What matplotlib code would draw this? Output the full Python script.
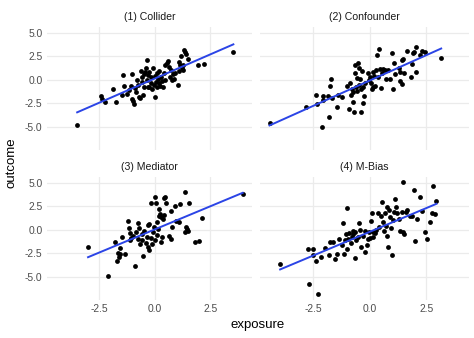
import numpy as np
import matplotlib
matplotlib.use("Agg")
import matplotlib.pyplot as plt

plt.rcParams['font.family'] = ['Liberation Sans', 'DejaVu Sans']

titles = ["(1) Collider", "(2) Confounder", "(3) Mediator", "(4) M-Bias"]

collider_x = [-3.50, 3.54, -2.43, -2.40, -2.23, -1.88, -1.73, -1.43, -1.46, -1.38, -1.24, -1.16, -1.09, -1.04,
              -1.01, -0.98, -0.94, -0.89, -0.83, -0.79, -0.74, -0.71, -0.68, -0.64, -0.60, -0.57, -0.54, -0.51,
              -0.48, -0.45, -0.42, -0.37, -0.34, -0.31, -0.30, -0.27, -0.24, -0.19, -0.15, -0.12, -0.09, -0.04,
              0.00, 0.03, 0.06, 0.09, 0.12, 0.15, 0.18, 0.21, 0.25, 0.30, 0.33, 0.37, 0.40, 0.45, 0.48, 0.55,
              0.60, 0.65, 0.70, 0.74, 0.77, 0.80, 0.85, 0.92, 1.04, 1.07, 1.10, 1.15, 1.19, 1.22, 1.26, 1.29,
              1.32, 1.37, 1.40, 1.49, 1.96, 2.22]
collider_y = [-4.82, 2.98, -1.70, -2.06, -2.38, -1.00, -2.34, 0.50, -1.60, -0.64, -1.49, -1.06, -0.64, 0.64,
              -1.99, -2.23, -2.55, -0.89, -1.24, 0.00, -0.53, -1.77, -1.95, 1.00, 0.28, -0.18, -1.60, -0.78,
              0.64, 0.82, 1.24, 2.13, 0.00, -0.71, 0.53, 0.89, -0.78, 0.28, -0.35, -0.99, 1.24, -0.53,
              0.43, -1.77, -0.18, 0.71, -0.78, 0.07, 1.00, -0.35, -0.64, 0.28, -0.07, -0.78, 0.71, 1.60, 0.00, 1.84,
              2.06, 1.42, 0.28, 1.06, 0.00, 0.64, 0.07, 0.78, -0.53, 1.95, 1.00, 1.60, 2.55, 1.24, 1.60, 1.06,
              3.19, 2.94, 2.77, 2.20, 1.60, 1.70]

confounder_x = [-4.44, 3.15, -2.84, -2.38, -2.32, -2.12, -2.06, -2.09, -1.85, -1.79, -1.76, -1.71, -1.68, -1.44,
                -1.41, -1.25, -1.03, -0.91, -0.88, -0.85, -0.81, -0.76, -0.74, -0.71, -0.68, -0.65, -0.62, -0.59,
                -0.56, -0.51, -0.50, -0.47, -0.44, -0.41, -0.38, -0.35, -0.32, -0.29, -0.26, -0.22, -0.07, -0.03,
                0.00, 0.03, 0.07, 0.12, 0.15, 0.18, 0.22, 0.26, 0.32, 0.37, 0.41, 0.44, 0.50, 0.53, 0.59, 0.66,
                0.71, 0.78, 0.88, 0.99, 1.04, 1.07, 1.12, 1.29, 1.32, 1.35, 1.40, 1.43, 1.47, 1.50, 1.66, 1.82,
                1.88, 1.91, 1.96, 2.03, 2.03, 2.21, 2.32, 2.44]
confounder_y = [-4.54, 2.38, -2.84, -1.63, -2.55, -5.00, -1.74, -2.13, -1.70, -3.97, -0.64, 0.14, -1.91, -2.84,
                -1.60, -1.84, -0.64, -3.12, -0.35, -1.60, -0.99, -1.24, -2.30, -3.37, 0.78, 1.60, -0.78, -1.13,
                0.18, 1.77, -0.53, 1.24, 0.07, -0.99, -3.37, 1.00, -0.71, -2.48, -1.70, -0.35, 0.78, 0.00,
                0.28, -0.28, -0.99, -0.78, 0.89, 0.43, -0.64, 1.06, 2.66, 0.28, 3.33, 1.13, -0.89, 0.78, 1.13, 1.06,
                0.07, 1.06, 0.07, 2.84, -0.92, 1.77, 0.64, 1.24, -0.14, 0.89, 2.13, -0.43, 2.27, 0.71, 3.12, 0.35,
                1.70, 2.84, 3.01, 0.89, 3.55, 2.66, 3.12, 3.01]

mediator_x = [-3.01, 3.96, -2.13, -1.79, -1.70, -1.67, -1.61, -1.58, -1.55, -1.49, -1.34, -1.19, -1.16, -1.13,
              -1.10, -1.07, -0.97, -0.89, -0.83, -0.77, -0.74, -0.71, -0.65, -0.60, -0.57, -0.52, -0.48, -0.42,
              -0.37, -0.33, -0.30, -0.27, -0.24, -0.19, -0.15, -0.12, -0.09, -0.04, -0.01, 0.03, 0.06, 0.09,
              0.12, 0.15, 0.18, 0.21, 0.24, 0.27, 0.30, 0.33, 0.37, 0.40, 0.43, 0.48, 0.52, 0.65, 0.71, 0.74,
              0.77, 0.92, 0.97, 1.07, 1.12, 1.34, 1.37, 1.41, 1.46, 1.49, 1.55, 1.79, 1.99, 2.14]
mediator_y = [-1.77, 3.83, -4.93, -1.28, -3.30, -2.41, -2.84, -2.55, -1.95, -0.78, -2.55, 0.96, 0.18, -0.35,
              -1.06, -0.89, -0.64, -3.87, -0.18, -0.96, 0.71, 0.18, -1.49, -1.06, -0.43, -2.77, -0.07, -1.35,
              -0.71, 0.53, -1.84, 0.64, -2.13, -0.89, 2.84, -1.49, -0.18, 0.35, 3.48, -1.06, 2.91, 0.89,
              -0.53, 0.07, 1.49, 2.23, 1.70, 1.35, -1.24, -0.78, 1.13, 1.60, 3.37, 3.48, 2.91, -0.64, -0.96, 2.06,
              0.35, 2.55, 0.96, 0.89, 2.73, 4.08, -0.18, 0.35, 0.07, -0.07, 2.91, -1.24, -1.17, 1.24]

mbias_x = [-3.97, -2.68, -2.28, -2.74, -2.53, -2.50, -2.38, -2.18, -1.99, -1.79, -1.76, -1.65, -1.56, -1.47,
           -1.38, -1.25, -1.21, -1.15, -1.10, -1.06, -1.03, -1.00, -0.96, -0.91, -0.85, -0.81, -0.76, -0.74,
           -0.68, -0.65, -0.62, -0.51, -0.47, -0.44, -0.38, -0.32, -0.24, -0.21, -0.15, -0.07, -0.03, 0.00,
           0.06, 0.09, 0.12, 0.15, 0.22, 0.26, 0.37, 0.41, 0.47, 0.53, 0.56, 0.62, 0.66, 0.71, 0.74, 0.76,
           0.82, 0.85, 0.88, 0.91, 0.96, 1.00, 1.06, 1.12, 1.15, 1.18, 1.29, 1.35, 1.40, 1.44, 1.47, 1.50,
           1.59, 1.62, 1.76, 1.88, 1.94, 1.99, 2.09, 2.21, 2.32, 2.43, 2.53, 2.65, 2.76, 2.79, 2.87, 2.94]
mbias_y = [-3.58, -5.74, -6.84, -2.06, -2.06, -2.66, -3.26, -2.84, -1.91, -2.66, -1.24, -1.24, -3.12, -2.55,
           -0.99, -1.60, 0.71, -2.55, -1.06, -0.43, 2.30, -2.06, -0.99, -0.28, -1.35, -0.71, -0.07, -0.43,
           -2.94, -0.18, -1.06, -0.71, 0.71, 0.00, -1.84, -0.64, -0.07, -2.30, -1.60, -0.99, -0.18, -0.89,
           0.99, 1.84, -0.18, -0.78, -0.28, 0.00, 1.84, 0.35, 1.49, 3.01, 0.89, -0.07, 1.84, 0.43, 2.41, -0.64,
           -1.84, 2.13, 1.35, 0.18, -2.66, 1.06, 1.95, 3.26, 2.41, 1.77, 1.13, -0.07, 1.95, -0.18, 5.07, -0.43,
           1.95, 2.13, 1.49, 1.49, 4.26, -1.17, 1.13, 3.48, 2.06, -0.18, -0.99, 0.89, 1.84, 4.72, 1.70, 3.12]

xs = [collider_x, confounder_x, mediator_x, mbias_x]
ys = [collider_y, confounder_y, mediator_y, mbias_y]

x_ticks = [-2.5, 0.0, 2.5]
y_ticks = [-5.0, -2.5, 0.0, 2.5, 5.0]

allx = np.concatenate([np.array(a) for a in xs])
ally = np.concatenate([np.array(a) for a in ys])
xr = allx.max() - allx.min()
yr = ally.max() - ally.min()
xlim = (allx.min() - 0.05 * xr, allx.max() + 0.05 * xr)
ylim = (ally.min() - 0.05 * yr, ally.max() + 0.05 * yr)

W, H = 474, 338
fig = plt.figure(figsize=(W / 100, H / 100), dpi=100)
fig.patch.set_facecolor('white')

lefts = [47, 260, 47, 260]
rights = [252, 469, 252, 469]
tops = [26.7, 26.7, 176.7, 176.7]
bottoms = [149.9, 149.9, 299.9, 299.9]

grid_col = '#EBEBEB'
tick_col = '#4D4D4D'

for i in range(4):
    l, r, t, b = lefts[i], rights[i], tops[i], bottoms[i]
    ax = fig.add_axes([l / W, 1 - b / H, (r - l) / W, (b - t) / H])
    ax.set_xlim(xlim)
    ax.set_ylim(ylim)
    ax.set_xticks(x_ticks)
    ax.set_yticks(y_ticks)
    ax.grid(True, color=grid_col, linewidth=0.9)
    ax.set_axisbelow(True)
    for s in ax.spines.values():
        s.set_visible(False)
    ax.tick_params(length=0, labelsize=7.4, colors=tick_col, pad=3.2)
    if i in (0, 2):
        ax.set_yticklabels([f"{v:.1f}" for v in y_ticks])
    else:
        ax.set_yticklabels([])
    if i in (2, 3):
        ax.set_xticklabels([f"{v:.1f}" for v in x_ticks])
    else:
        ax.set_xticklabels([])
    x = np.array(xs[i])
    y = np.array(ys[i])
    ax.scatter(x, y, s=12, color='black', linewidths=0, zorder=3)
    k, c = np.polyfit(x, y, 1)
    xx = np.array([x.min(), x.max()])
    ax.plot(xx, k * xx + c, color='#2B44E6', linewidth=1.4, zorder=4)
    ax.set_title(titles[i], fontsize=7.6, color='#1A1A1A', pad=5)

fig.text(258 / W, 1 - 325 / H, "exposure", ha='center', va='center', fontsize=9.5)
fig.text(12 / W, 1 - 163 / H, "outcome", ha='center', va='center', rotation=90, fontsize=9.5)

fig.savefig("out.png", dpi=100)
